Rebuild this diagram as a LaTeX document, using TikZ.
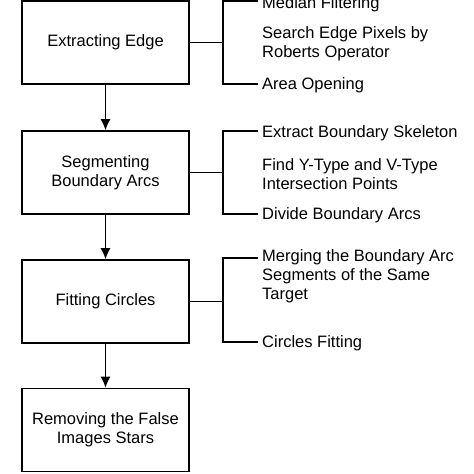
\documentclass[tikz,border=0pt]{standalone}
\usepackage{fontspec}
\setmainfont{Liberation Sans}
\usetikzlibrary{arrows.meta,positioning}

\tikzset{
  stagebox/.style={draw, line width=1.6pt, minimum width=167pt, minimum height=83pt, align=center, inner sep=0pt},
  stepnote/.style={inner sep=4.5pt, align=left},
  flow/.style={line width=1.3pt, -{Latex[length=11pt,width=10pt]}},
  brace/.style={line width=1.3pt}
}

\begin{document}
\begin{tikzpicture}[x=1pt, y=-1pt, font=\fontsize{16.5}{19}\selectfont]
\useasboundingbox (0,0) rectangle (474,474);

% main stages
\node[stagebox] (edge) at (105.5,42.5) {Extracting Edge};
\node[stagebox] (arcs) at (105.5,172.5) {Segmenting\\Boundary Arcs};
\node[stagebox] (circ) at (105.5,301.5) {Fitting Circles};
\node[stagebox] (stars) at (105.5,430) {Removing the False\\Images Stars};

\draw[flow] (edge) -- (arcs);
\draw[flow] (arcs) -- (circ);
\draw[flow] (circ) -- (stars);

% sub steps of the first stage
\coordinate (e1) at (223,1);
\coordinate (e2) at (223,42.5);
\coordinate (e3) at (223,84);
\node[stepnote, anchor=west] (median) at (257.5,4) {Median Filtering};
\node[stepnote, anchor=west] (roberts) at (257.5,44) {Search Edge Pixels by\\Roberts Operator};
\node[stepnote, anchor=west] (opening) at (257.5,85) {Area Opening};
\draw[brace] (edge.east) -- (e2);
\draw[brace] (e1 -| opening.west) -- (e1) -- (e3) -- (opening.west |- e3);

% sub steps of the second stage
\coordinate (a1) at (223,131);
\coordinate (a2) at (223,172.5);
\coordinate (a3) at (223,214);
\node[stepnote, anchor=west] (skeleton) at (257.5,133) {Extract Boundary Skeleton};
\node[stepnote, anchor=west] (ytype) at (257.5,174) {Find Y-Type and V-Type\\Intersection Points};
\node[stepnote, anchor=west] (divide) at (257.5,215) {Divide Boundary Arcs};
\draw[brace] (arcs.east) -- (a2);
\draw[brace] (skeleton.west |- a1) -- (a1) -- (a3) -- (divide.west |- a3);

% sub steps of the third stage
\coordinate (c1) at (223,258);
\coordinate (c2) at (223,301.5);
\coordinate (c3) at (223,342);
\node[stepnote, anchor=north west] (merging) at (257.5,244.5) {Merging the Boundary Arc\\Segments of the Same\\Target};
\node[stepnote, anchor=west] (fitting) at (257.5,343) {Circles Fitting};
\draw[brace] (circ.east) -- (c2);
\draw[brace] (merging.west |- c1) -- (c1) -- (c3) -- (fitting.west |- c3);
\end{tikzpicture}
\end{document}
